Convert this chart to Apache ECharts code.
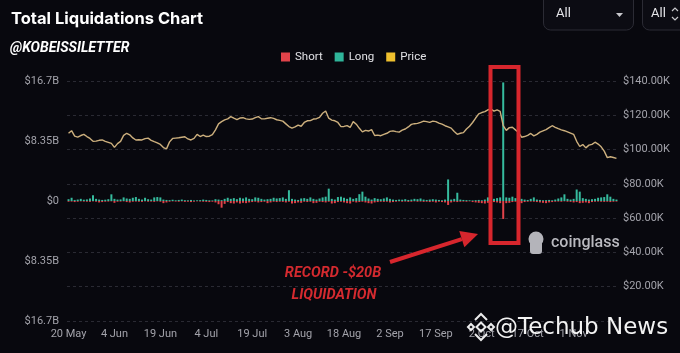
<!DOCTYPE html>
<html>
<head>
<meta charset="utf-8">
<script src="https://cdn.jsdelivr.net/npm/echarts@6/dist/echarts.min.js"></script>
<style>
html,body{margin:0;padding:0;background:#08080e;}
#chart{width:680px;height:353px;}
</style>
</head>
<body>
<div id="chart"></div>
<script>
// ---- DATA ----
const monthNames = ['Jan','Feb','Mar','Apr','May','Jun','Jul','Aug','Sep','Oct','Nov','Dec'];
const startDate = Date.UTC(2025, 4, 20);
const dayCount = 180;
const categories = [];
for (let i = 0; i < dayCount; i++) {
  const d = new Date(startDate + i * 86400000);
  categories.push(d.getUTCDate() + ' ' + monthNames[d.getUTCMonth()]);
}

// Long liquidations, $B (plotted upward)
const longLiq = [
0.25,0.45,0.15,0.2,0.3,0.18,0.22,0.35,0.8,0.3,
0.2,0.15,0.18,0.25,0.93,0.3,0.2,0.22,0.5,0.35,
0.3,0.45,0.55,0.3,0.2,0.45,0.25,0.2,0.5,0.55,
0.5,0.2,0.15,0.12,0.18,0.1,0.15,0.2,0.12,0.1,
0.15,0.08,0.1,0.12,0.2,0.15,0.1,0.08,0.25,0.2,
0.12,0.3,0.45,0.3,0.4,0.25,0.45,0.35,0.5,0.3,
0.25,0.5,0.45,0.3,0.2,0.25,0.3,0.45,0.35,0.4,
0.5,0.3,1.5,0.3,0.2,0.15,0.35,0.4,0.3,0.5,
0.3,0.2,0.35,0.5,0.6,1.72,0.3,0.2,0.55,0.6,
0.45,0.3,0.5,0.3,0.4,0.95,1.3,0.6,0.35,0.2,
0.4,0.3,0.25,0.35,0.5,0.3,0.2,0.15,0.2,0.18,
0.25,0.15,0.2,0.3,0.25,0.35,0.2,0.15,0.2,0.25,
0.2,0.15,0.1,0.2,3.0,0.2,0.3,1.15,0.2,0.15,
0.12,0.1,0.08,0.12,0.15,0.1,0.2,0.5,0.6,0.3,
0.4,0.5,16.5,0.5,0.45,0.6,0.4,0.75,0.3,0.2,
0.15,0.3,0.5,0.2,0.15,0.1,0.12,0.15,0.1,0.2,
0.35,0.5,0.93,0.3,0.2,0.3,1.6,1.3,0.4,0.3,
0.2,0.25,0.3,0.45,0.5,0.55,0.93,0.6,0.3,0.2
];

// Short liquidations, $B (magnitude, plotted downward)
const shortLiq = [
0.1,0.08,0.15,0.1,0.05,0.08,0.1,0.12,0.05,0.1,
0.2,0.15,0.1,0.08,0.05,0.25,0.1,0.08,0.05,0.15,
0.2,0.1,0.08,0.1,0.12,0.05,0.1,0.08,0.12,0.05,
0.1,0.3,0.2,0.1,0.05,0.08,0.1,0.05,0.12,0.1,
0.15,0.1,0.05,0.08,0.1,0.12,0.15,0.1,0.2,0.45,
0.93,0.4,0.15,0.3,0.35,0.2,0.35,0.25,0.3,0.2,
0.15,0.1,0.2,0.15,0.1,0.3,0.2,0.1,0.15,0.1,
0.12,0.2,0.1,0.35,0.3,0.2,0.25,0.1,0.15,0.1,
0.3,0.25,0.1,0.15,0.2,0.1,0.35,0.3,0.15,0.1,
0.2,0.3,0.35,0.1,0.2,0.15,0.1,0.2,0.3,0.35,
0.2,0.15,0.1,0.12,0.1,0.2,0.15,0.1,0.05,0.1,
0.08,0.12,0.1,0.05,0.1,0.08,0.12,0.1,0.15,0.1,
0.2,0.1,0.15,0.2,0.55,0.2,0.1,0.15,0.1,0.08,
0.1,0.05,0.15,0.2,0.25,0.3,0.35,0.25,0.2,0.15,
0.2,0.3,2.5,0.3,0.25,0.15,0.1,0.2,0.3,0.15,
0.1,0.08,0.1,0.15,0.2,0.25,0.3,0.2,0.15,0.1,
0.08,0.1,0.05,0.1,0.12,0.2,0.15,0.3,0.25,0.2,
0.3,0.15,0.1,0.08,0.1,0.12,0.1,0.15,0.1,0.08
];

// BTC price, $K
const price = [
109.5,111.0,107.8,107.3,108.2,108.9,107.6,106.5,104.8,104.9,
105.4,105.6,104.8,104.2,103.6,101.3,103.5,104.8,108.3,109.5,
108.6,106.8,105.6,105.7,105.6,106.4,106.7,105.4,104.6,103.9,
103.0,101.2,100.4,104.5,106.5,106.7,106.9,107.2,107.5,106.2,
105.6,106.5,108.9,107.6,108.4,107.6,107.8,108.7,111.5,115.0,
116.3,117.3,117.9,119.2,118.3,117.5,118.4,118.6,117.9,117.6,
117.8,118.6,119.2,118.0,117.9,118.3,118.6,118.2,117.4,117.0,
116.6,115.0,113.4,112.5,113.2,114.3,113.6,115.8,116.8,116.9,
117.8,118.0,118.8,121.2,122.5,118.3,117.2,116.8,115.8,113.4,
113.5,114.0,112.9,116.3,114.8,112.4,110.3,111.2,110.8,111.6,
108.2,108.4,108.1,108.9,109.5,110.6,110.9,110.5,110.2,111.3,
112.0,113.2,114.7,115.1,115.3,115.9,116.6,116.3,115.9,116.6,
116.3,115.4,114.8,113.9,113.2,112.5,110.5,108.9,109.5,109.9,
112.0,113.6,115.8,118.4,120.8,121.6,122.1,123.2,123.6,122.4,
123.1,122.3,114.0,111.2,112.8,113.0,111.5,110.0,107.2,107.6,
108.3,109.4,108.0,108.9,110.2,110.9,111.6,112.8,113.9,113.0,
112.2,111.5,111.0,110.3,109.6,108.9,104.8,101.8,102.9,101.0,
102.6,103.0,104.3,103.2,101.6,99.1,95.3,95.8,95.4,94.9
];

const liqAxis = { min: -16.7, max: 16.7, interval: 8.35 };
const priceAxis = { min: 0, max: 140, interval: 20 };

// ---- CHART ----
const chart = echarts.init(document.getElementById('chart'), null, { renderer: 'canvas' });
const labelColor = '#a3a3ab';
const FONT = 'Roboto, "Noto Sans", sans-serif';

function binanceLogo(cx, cy) {
  const diamond = (x, y, r) => [[x, y - r], [x + r, y], [x, y + r], [x - r, y]];
  const style = { fill: 'none', stroke: 'rgba(255,255,255,0.92)', lineWidth: 2 };
  const items = [];
  items.push({ type: 'polygon', shape: { points: diamond(cx, cy, 4.5) }, style });
  items.push({ type: 'polygon', shape: { points: diamond(cx - 10, cy, 3) }, style });
  items.push({ type: 'polygon', shape: { points: diamond(cx + 10, cy, 3) }, style });
  items.push({ type: 'polyline', shape: { points: [[cx - 6, cy - 7], [cx, cy - 13], [cx + 6, cy - 7]] }, style });
  items.push({ type: 'polyline', shape: { points: [[cx - 6, cy + 7], [cx, cy + 13], [cx + 6, cy + 7]] }, style });
  return items;
}

const arrowTip = [478, 234];
const arrowTail = [390, 262];
const dx = arrowTip[0] - arrowTail[0], dy = arrowTip[1] - arrowTail[1];
const len = Math.sqrt(dx * dx + dy * dy);
const ux = dx / len, uy = dy / len;
const headL = 17, headW = 8.5;
const base = [arrowTip[0] - ux * headL, arrowTip[1] - uy * headL];
const headPts = [arrowTip, [base[0] - uy * headW, base[1] + ux * headW], [base[0] + uy * headW, base[1] - ux * headW]];

const option = {
  backgroundColor: '#08080e',
  animation: false,
  title: [
    { text: 'Total Liquidations Chart', left: 6, top: 6,
      textStyle: { color: '#ffffff', fontSize: 16.5, fontWeight: 'bold', fontFamily: 'Inter, Roboto, sans-serif' } },
    { text: '@KOBEISSILETTER', left: 5, top: 36,
      textStyle: { color: '#ffffff', fontSize: 14, fontWeight: 'bold', fontStyle: 'italic', fontFamily: 'Roboto, sans-serif' } }
  ],
  legend: {
    top: 46, left: 276,
    itemWidth: 9, itemHeight: 9, itemGap: 12,
    icon: 'rect',
    textStyle: { color: '#e2e2e6', fontSize: 11.5, fontFamily: FONT },
    data: [
      { name: 'Short', itemStyle: { color: '#e0434a' } },
      { name: 'Long', itemStyle: { color: '#2fb59a' } },
      { name: 'Price', itemStyle: { color: '#efc02e' } }
    ]
  },
  grid: { left: 67, right: 62, top: 81, bottom: 32 },
  xAxis: {
    type: 'category',
    data: categories,
    boundaryGap: true,
    axisLine: { show: false },
    axisTick: { show: false },
    axisLabel: { interval: 14, color: labelColor, fontSize: 11, fontFamily: FONT, margin: 8 },
    splitLine: { show: false }
  },
  yAxis: [
    {
      type: 'value', position: 'left',
      min: liqAxis.min, max: liqAxis.max, interval: liqAxis.interval,
      axisLine: { show: false }, axisTick: { show: false },
      splitLine: { show: false },
      axisLabel: {
        color: labelColor, fontSize: 11, fontFamily: FONT, margin: 8,
        formatter: v => {
          const a = +Math.abs(v).toFixed(2);
          return a === 0 ? '$0' : '$' + a + 'B';
        }
      }
    },
    {
      type: 'value', position: 'right',
      min: priceAxis.min, max: priceAxis.max, interval: priceAxis.interval,
      axisLine: { show: false }, axisTick: { show: false },
      splitLine: { show: true, lineStyle: { color: '#2a2a33', type: [3, 3], width: 1 } },
      axisLabel: {
        color: labelColor, fontSize: 11, fontFamily: FONT, margin: 5, showMinLabel: false,
        formatter: v => '$' + v.toFixed(2) + 'K'
      }
    }
  ],
  series: [
    {
      name: 'Short', type: 'bar', stack: 'liq', yAxisIndex: 0,
      barWidth: 2,
      itemStyle: { color: '#e0434a' },
      data: shortLiq.map(v => -v)
    },
    {
      name: 'Long', type: 'bar', stack: 'liq', yAxisIndex: 0,
      barWidth: 2,
      itemStyle: { color: '#36bb9e' },
      data: longLiq
    },
    {
      name: 'Price', type: 'line', yAxisIndex: 1,
      symbol: 'none', smooth: false,
      itemStyle: { color: '#efc02e' },
      lineStyle: { color: '#cdb07e', width: 1.4 },
      data: price,
      z: 3
    }
  ],
  graphic: [
    // dropdown boxes
    { type: 'rect', shape: { x: 543.5, y: -8, width: 90, height: 38, r: 7 },
      style: { fill: '#0c0c13', stroke: '#2b2b34', lineWidth: 1 }, z: 10 },
    { type: 'text', x: 556, y: 14, style: { text: 'All', fill: '#e6e6ea', font: '13px Roboto, sans-serif', verticalAlign: 'middle' }, z: 11 },
    { type: 'polygon', shape: { points: [[616, 13], [623, 13], [619.5, 17]] }, style: { fill: '#c8c8cc' }, z: 11 },
    { type: 'rect', shape: { x: 642.5, y: -8, width: 60, height: 38, r: 7 },
      style: { fill: '#0c0c13', stroke: '#2b2b34', lineWidth: 1 }, z: 10 },
    { type: 'text', x: 651, y: 14, style: { text: 'All', fill: '#e6e6ea', font: '13px Roboto, sans-serif', verticalAlign: 'middle' }, z: 11 },
    { type: 'polyline', shape: { points: [[672, 11], [675, 8], [678, 11]] }, style: { stroke: '#c8c8cc', lineWidth: 1.2, fill: 'none' }, z: 11 },
    { type: 'polyline', shape: { points: [[672, 17], [675, 20], [678, 17]] }, style: { stroke: '#c8c8cc', lineWidth: 1.2, fill: 'none' }, z: 11 },

    // red highlight box
    { type: 'rect', shape: { x: 490.5, y: 67, width: 28, height: 176 },
      style: { fill: 'none', stroke: '#d7262d', lineWidth: 4 }, z: 20 },
    // arrow
    { type: 'line', shape: { x1: arrowTail[0], y1: arrowTail[1], x2: base[0], y2: base[1] },
      style: { stroke: '#d7262d', lineWidth: 4 }, z: 20 },
    { type: 'polygon', shape: { points: headPts }, style: { fill: '#d7262d' }, z: 20 },
    // annotation text
    { type: 'text', x: 333, y: 273, style: { text: 'RECORD -$20B', fill: '#d42a2f',
      font: 'italic bold 14.5px Roboto, sans-serif', align: 'center', verticalAlign: 'middle' }, z: 20 },
    { type: 'text', x: 334, y: 295, style: { text: 'LIQUIDATION', fill: '#d42a2f',
      font: 'italic bold 14.5px Roboto, sans-serif', align: 'center', verticalAlign: 'middle' }, z: 20 },

    // coinglass watermark
    { type: 'circle', shape: { cx: 536, cy: 239, r: 7.5 }, style: { fill: '#b4b4ba' }, z: 15 },
    { type: 'rect', shape: { x: 530, y: 241, width: 12, height: 13, r: 3 }, style: { fill: '#b4b4ba' }, z: 15 },
    { type: 'text', x: 551, y: 243, style: { text: 'coinglass', fill: '#b9b9bf',
      font: '500 16px Roboto, sans-serif', verticalAlign: 'middle' }, z: 15 },

    // Techub News watermark
    ...binanceLogo(481, 327).map(o => Object.assign(o, { z: 30 })),
    { type: 'text', x: 495, y: 328, style: { text: '@Techub News', fill: 'rgba(255,255,255,0.95)',
      font: '23px "DejaVu Sans", sans-serif', verticalAlign: 'middle' }, z: 30 }
  ]
};

chart.setOption(option);
</script>
</body>
</html>
